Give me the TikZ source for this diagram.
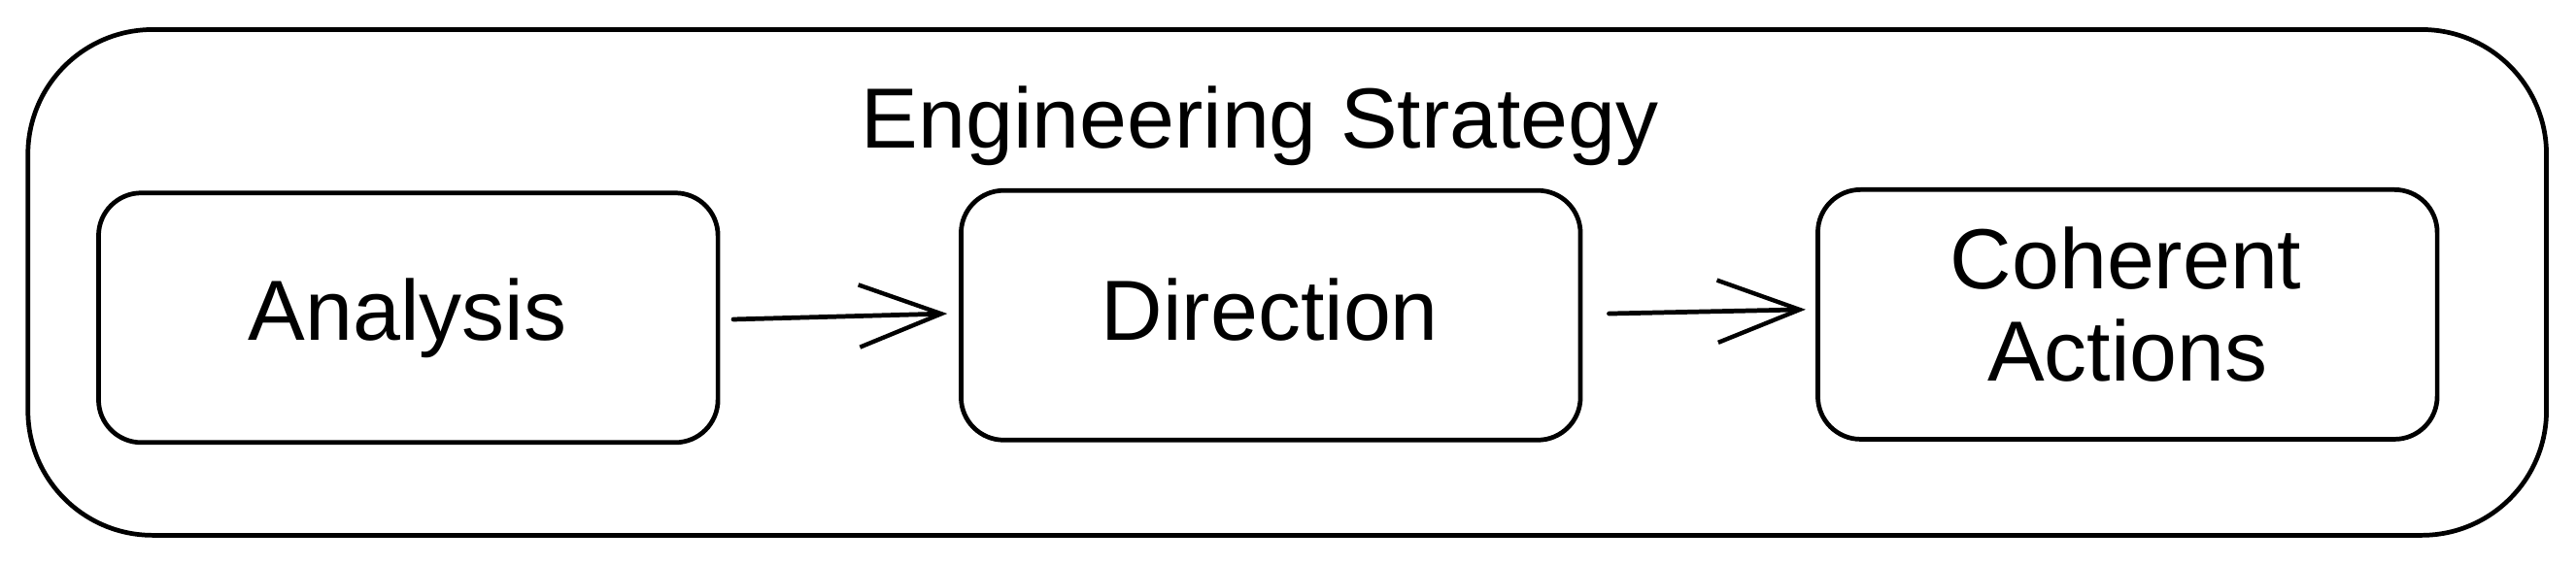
\documentclass[tikz,border=0pt]{standalone}
\usepackage{fontspec}
\setmainfont{Liberation Sans}
\usetikzlibrary{arrows.meta}
\begin{document}
\begin{tikzpicture}[x=0.5pt,y=-0.5pt,
  line width=1.4pt, line cap=round, line join=round,
  stepbox/.style={draw, rounded corners=13pt, minimum width=188.5pt, minimum height=76pt, inner sep=0pt},
  outerbox/.style={draw, rounded corners=38pt, minimum width=766.5pt, minimum height=154pt, inner sep=0pt},
  lbl/.style={font=\fontsize{26}{30}\selectfont, anchor=base, inner sep=0pt},
  arr/.style={-{Straight Barb[length=25pt,width=19pt,line width=1.3pt]}}
]
\useasboundingbox (0,0) rectangle (1568,344);
\node[outerbox] (outer) at (783.5,172) {};
\node[lbl] (title) at (767,90) {Engineering Strategy};
\node[stepbox] (a) at (248.5,193.5) {};
\node[stepbox] (d) at (773.5,192) {};
\node[stepbox] (c) at (1295,191.5) {};
\node[lbl] (ta) at (248,207) {Analysis};
\node[lbl] (td) at (773,207) {Direction};
\node[lbl] (tc1) at (1294,176) {Coherent};
\node[lbl] (tc2) at (1295,232) {Actions};
\draw[arr] ([xshift=4pt,yshift=-0.5pt]a.east) -- ([xshift=-3.5pt,yshift=0.5pt]d.west);
\draw[arr] ([xshift=8pt,yshift=0.5pt]d.east) -- ([xshift=-3pt,yshift=1.5pt]c.west);
\end{tikzpicture}
\end{document}
